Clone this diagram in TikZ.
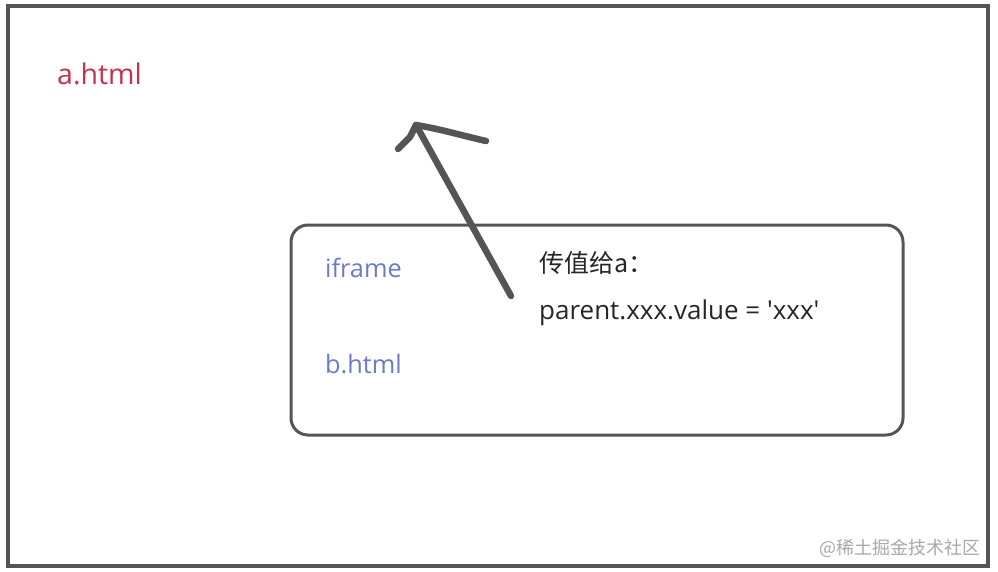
\documentclass[tikz,border=0pt]{standalone}
\usepackage{fontspec}
\setmainfont{Open Sans}
\newfontfamily\codefont{Open Sans}[Ligatures=ResetAll]
\newfontfamily\cjk{Noto Sans CJK SC}
\definecolor{framegray}{HTML}{555555}
\definecolor{redtxt}{HTML}{C9304F}
\definecolor{bluetxt}{HTML}{6B7BC9}
\definecolor{marktxt}{HTML}{A8A8A8}
\begin{document}
\begin{tikzpicture}[x=1pt,y=-1pt,
  frame/.style={draw=framegray,line width=4pt},
  innerbox/.style={draw=framegray,line width=3pt,rounded corners=17pt},
  pen/.style={draw=framegray,line width=6.5pt,line cap=round,line join=round},
  redlabel/.style={text=redtxt,font=\fontsize{28.5}{32}\selectfont,anchor=base west,inner sep=0pt},
  bluelabel/.style={text=bluetxt,font=\fontsize{25.3}{30}\selectfont,anchor=base west,inner sep=0pt},
  darklabel/.style={text=black!85,font=\codefont\fontsize{26}{30}\selectfont,anchor=base west,inner sep=0pt},
  watermark/.style={text=marktxt,font=\cjk\fontsize{18}{21}\selectfont,anchor=base east,inner sep=0pt}]
\useasboundingbox (0,0) rectangle (998,572);
\fill[white] (0,0) rectangle (998,572);
\draw[frame] (8,6) rectangle (988,566);
\draw[innerbox] (291,225) rectangle (903,435);
\node[redlabel] (a) at (57,85) {a.html};
\node[bluelabel] (iframe) at (325,277) {iframe};
\node[bluelabel] (b) at (325,373) {b.html};
\node[darklabel,font=\cjk\fontsize{25}{30}\selectfont] (cn) at (539,272) {传值给a：};
\node[darklabel] (code) at (539,319) {parent.xxx.value = 'xxx'};
\node[watermark] (wm) at (981,554) {@稀土掘金技术社区};
\coordinate (tail) at (511,296);
\coordinate (tip) at (416,125);
\coordinate (lh) at (398,149);
\coordinate (rh) at (486,141);
\draw[pen] (tail) -- (tip);
\draw[pen] (lh) -- (410,137) -- (tip);
\draw[pen] (tip) .. controls (440,129) and (464,136) .. (rh);
\end{tikzpicture}
\end{document}
